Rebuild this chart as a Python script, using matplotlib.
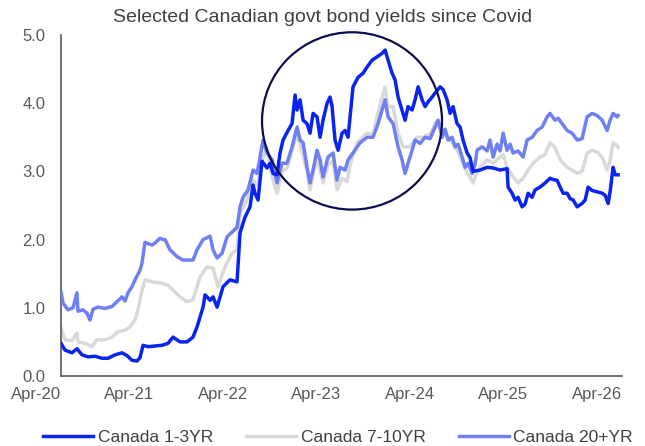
import matplotlib
matplotlib.use("Agg")
import matplotlib.pyplot as plt
from matplotlib.patches import Ellipse
from matplotlib.lines import Line2D

plt.rcParams['font.family'] = ['Liberation Sans', 'DejaVu Sans']

# months since Apr-2020 and yields (%)
m_short = [0, 0.51, 1.41, 2.05, 2.7, 3.47, 4.36, 5.26, 6.03, 6.93, 7.83, 8.47, 9.11, 9.76, 10.14, 10.53,
           11.17, 12.07, 12.97, 13.74, 14.38, 15.28, 16.17, 16.94, 17.46, 18.23, 18.49, 19.13, 19.51, 20.03,
           20.8, 21.69, 22.59, 22.98, 23.62, 24.26, 24.65, 24.9, 25.29, 25.8, 26.44, 26.83, 27.21, 27.73,
           28.11, 28.5, 29.14, 29.65, 30.04, 30.3, 30.68, 31.07, 31.58, 31.96, 32.35, 32.86, 33.25, 33.63,
           34.15, 34.53, 34.79, 35.17, 35.56, 36.07, 36.46, 36.84, 37.1, 37.48, 38.13, 38.77, 39.28, 39.92,
           40.56, 41.21, 41.59, 41.98, 42.49, 42.88, 43.26, 43.77, 44.16, 44.54, 45.06, 45.44, 45.83, 46.34,
           46.73, 47.11, 47.63, 48.01, 48.65, 49.04, 49.55, 49.94, 50.32, 50.83, 51.22, 51.6, 52.12, 52.5,
           52.89, 53.79, 54.69, 55.46, 56.35, 57.25, 57.38, 57.89, 58.28, 58.66, 59.18, 59.56, 59.95, 60.46,
           60.85, 61.49, 62.13, 62.77, 63.16, 63.67, 64.06, 64.44, 64.96, 65.34, 65.73, 66.24, 66.88, 67.27,
           67.65, 68.16, 68.81, 69.45, 69.83, 70.22, 70.47, 70.86, 71.12, 71.5]
y_short = [0.48, 0.38, 0.34, 0.40, 0.31, 0.28, 0.29, 0.26, 0.26, 0.31, 0.34, 0.30, 0.23, 0.22, 0.27, 0.45,
           0.43, 0.44, 0.45, 0.48, 0.57, 0.50, 0.50, 0.57, 0.72, 1.01, 1.19, 1.11, 1.16, 1.01,
           1.31, 1.41, 1.38, 2.10, 2.33, 2.48, 2.80, 2.68, 2.58, 3.15, 3.05, 3.12, 2.97, 2.95,
           3.27, 3.46, 3.60, 3.70, 4.12, 3.90, 4.05, 3.75, 3.70, 3.56, 3.85, 3.80, 3.50, 3.75,
           4.00, 4.09, 3.95, 3.46, 3.31, 3.56, 3.60, 3.50, 3.80, 4.24, 4.38, 4.44, 4.53, 4.63,
           4.68, 4.73, 4.78, 4.63, 4.44, 4.34, 4.09, 3.90, 3.75, 3.95, 3.90, 4.05, 4.24, 4.05,
           3.95, 4.02, 4.09, 4.15, 4.24, 4.20, 4.05, 3.85, 3.95, 3.70, 3.65, 3.46, 3.27, 3.20,
           3.00, 3.02, 3.06, 3.05, 3.02, 3.04, 2.77, 2.68, 2.58, 2.62, 2.48, 2.52, 2.68, 2.62,
           2.73, 2.77, 2.83, 2.90, 2.88, 2.87, 2.77, 2.68, 2.68, 2.60, 2.58, 2.48, 2.53, 2.58,
           2.77, 2.72, 2.70, 2.68, 2.65, 2.53, 2.70, 3.06, 2.95, 2.95]

m_mid = [0, 0.51, 1.41, 2.05, 2.18, 3.08, 3.98, 4.62, 5.65, 6.55, 7.32, 8.22, 8.86, 9.5, 9.88, 10.4,
         10.78, 11.68, 12.97, 13.74, 14.38, 15.28, 16.17, 16.94, 17.84, 18.74, 19.51, 20.15, 21.05,
         21.95, 22.59, 22.98, 23.88, 24.65, 25.29, 25.8, 26.44, 27.09, 27.73, 28.37, 29.01, 29.65,
         30.3, 30.68, 31.58, 31.96, 32.35, 32.86, 33.63, 34.27, 34.92, 35.43, 36.07, 36.71, 37.1, 38.0,
         39.28, 40.05, 40.56, 41.21, 41.59, 41.98, 42.62, 43.26, 43.9, 44.8, 45.7, 46.47, 47.37, 48.27,
         48.91, 49.68, 50.83, 51.6, 52.12, 52.5, 52.89, 53.14, 53.79, 54.69, 55.46, 56.35, 56.74, 57.25,
         58.02, 58.66, 59.31, 59.95, 60.59, 61.49, 62.13, 62.77, 63.41, 64.06, 64.96, 65.6, 66.24, 66.88,
         67.52, 68.16, 68.81, 69.45, 70.09, 70.47, 70.86, 71.37, 71.5]
y_mid = [0.70, 0.53, 0.52, 0.63, 0.50, 0.48, 0.43, 0.53, 0.53, 0.57, 0.65, 0.67, 0.72, 0.82, 0.97, 1.26,
         1.41, 1.38, 1.36, 1.33, 1.26, 1.16, 1.09, 1.12, 1.45, 1.60, 1.58, 1.31, 1.60,
         1.80, 1.85, 2.39, 2.58, 2.87, 2.80, 3.17, 3.35, 2.92, 2.68, 3.00, 3.05, 3.30,
         3.55, 3.40, 3.00, 2.73, 2.95, 3.20, 2.83, 3.10, 3.15, 2.73, 2.90, 2.85, 3.10, 3.42,
         3.56, 3.55, 3.80, 4.09, 4.24, 3.95, 3.95, 3.56, 3.36, 3.36, 3.50, 3.50, 3.55, 3.75,
         3.62, 3.50, 3.31, 3.12, 2.97, 2.92, 2.83, 2.92, 3.06, 3.17, 3.12, 3.21, 3.25, 3.06,
         2.92, 2.83, 2.90, 3.02, 3.12, 3.21, 3.25, 3.42, 3.35, 3.17, 3.06, 3.02, 2.97, 3.00,
         3.27, 3.31, 3.28, 3.21, 3.02, 3.15, 3.42, 3.38, 3.35]

m_long = [0, 0.26, 0.9, 1.54, 2.05, 2.18, 2.82, 3.34, 3.72, 4.11, 4.75, 5.65, 6.55, 7.19, 7.83, 8.22,
          8.6, 9.11, 9.5, 10.14, 10.4, 10.78, 11.68, 12.07, 12.71, 13.09, 13.35, 13.99, 14.89, 15.66,
          16.94, 17.46, 18.23, 19.13, 19.51, 20.03, 20.67, 21.31, 21.95, 22.59, 22.98, 23.36, 24.01,
          24.65, 25.16, 25.55, 25.93, 26.44, 27.09, 27.73, 28.37, 29.01, 29.65, 30.3, 30.68, 31.07,
          31.58, 31.96, 32.35, 32.86, 33.25, 33.63, 34.27, 34.92, 35.43, 35.81, 36.46, 36.84, 37.48,
          38.38, 39.28, 40.05, 40.69, 41.21, 41.59, 41.98, 42.62, 43.26, 43.77, 44.16, 44.54, 45.06,
          45.44, 46.09, 46.73, 47.37, 48.01, 48.4, 48.91, 49.29, 49.68, 50.19, 50.58, 50.96, 51.48,
          51.86, 52.25, 52.76, 53.14, 53.4, 54.04, 54.69, 55.07, 55.46, 55.97, 56.35, 56.74, 57.25,
          57.64, 58.02, 58.66, 59.31, 59.82, 60.46, 61.1, 61.75, 62.39, 62.77, 63.41, 63.8, 64.31,
          64.96, 65.6, 66.24, 66.88, 67.52, 68.16, 68.81, 69.45, 70.09, 70.47, 70.86, 71.37, 71.5]
y_long = [1.23, 1.07, 0.97, 1.00, 1.22, 0.95, 0.97, 0.92, 0.82, 0.98, 1.01, 0.99, 1.02, 1.09, 1.16, 1.10,
          1.22, 1.31, 1.41, 1.55, 1.66, 1.96, 1.92, 1.95, 2.02, 2.00, 2.00, 1.85, 1.75, 1.70,
          1.70, 1.85, 2.00, 2.05, 1.85, 1.73, 1.80, 2.04, 2.11, 2.18, 2.48, 2.62, 2.73,
          3.02, 2.97, 3.21, 3.46, 3.27, 3.17, 2.83, 3.12, 3.12, 3.36, 3.65, 3.46, 3.42,
          3.06, 2.83, 3.02, 3.31, 3.17, 2.92, 3.21, 3.27, 2.87, 3.06, 3.02, 3.17, 3.27,
          3.42, 3.50, 3.50, 3.70, 3.90, 4.05, 3.80, 3.70, 3.36, 3.17, 2.97, 3.12, 3.31,
          3.46, 3.41, 3.50, 3.48, 3.65, 3.75, 3.50, 3.62, 3.46, 3.50, 3.36, 3.40, 3.21,
          3.06, 3.12, 2.97, 3.10, 3.31, 3.36, 3.30, 3.46, 3.21, 3.40, 3.30, 3.56, 3.31,
          3.40, 3.27, 3.30, 3.21, 3.46, 3.50, 3.60, 3.65, 3.80, 3.85, 3.75, 3.78, 3.70,
          3.60, 3.56, 3.46, 3.48, 3.80, 3.85, 3.82, 3.75, 3.60, 3.75, 3.85, 3.80, 3.82]

tick_months = [0, 12, 24, 36, 48, 60, 72]
tick_labels = ["Apr-20", "Apr-21", "Apr-22", "Apr-23", "Apr-24", "Apr-25", "Apr-26"]
series_names = ["Canada 1-3YR", "Canada 7-10YR", "Canada 20+YR"]

c_short, c_mid, c_long = "#0A24F0", "#D9D9D9", "#6F80F3"
txt = "#595959"

fig = plt.figure(figsize=(6.45, 4.46), dpi=100)
ax = fig.add_axes([61/645, 70/446, 561/645, 341/446])

lw = 2.5
ax.plot(m_mid, y_mid, color=c_mid, lw=lw, zorder=2)
ax.plot(m_long, y_long, color=c_long, lw=lw, zorder=3)
ax.plot(m_short, y_short, color=c_short, lw=lw, zorder=4)

ax.set_xlim(0, 72)
ax.set_ylim(0, 5)
ax.set_yticks([0, 1, 2, 3, 4, 5])
ax.set_yticklabels([f"{v:.1f}" for v in [0, 1, 2, 3, 4, 5]])
ax.set_xticks(tick_months)
ax.set_xticklabels(tick_labels, ha='right')
ax.tick_params(axis='both', length=0, labelsize=12, labelcolor=txt)
ax.tick_params(axis='y', pad=11)
ax.tick_params(axis='x', pad=8)
for s in ['top', 'right']:
    ax.spines[s].set_visible(False)
for s in ['left', 'bottom']:
    ax.spines[s].set_color("#595959")
    ax.spines[s].set_linewidth(1.2)

ell = Ellipse((37.35, 3.74), 23.1, 2.6, fill=False, edgecolor="#0E0E4E", lw=1.6,
              clip_on=False, zorder=5)
ax.add_patch(ell)

fig.text(0.5, 429/446, "Selected Canadian govt bond yields since Covid", ha='center', va='center',
         fontsize=14, color="#404040")

handles = [Line2D([], [], color=c, lw=2.5) for c in (c_short, c_mid, c_long)]
fig.legend(handles, series_names, loc='center', bbox_to_anchor=(338/645, 9/446), ncol=3,
           frameon=False, fontsize=12.5, handlelength=2.9, handletextpad=0.25, columnspacing=1.9,
           labelcolor="#404040")

fig.savefig("out.png", dpi=100)
